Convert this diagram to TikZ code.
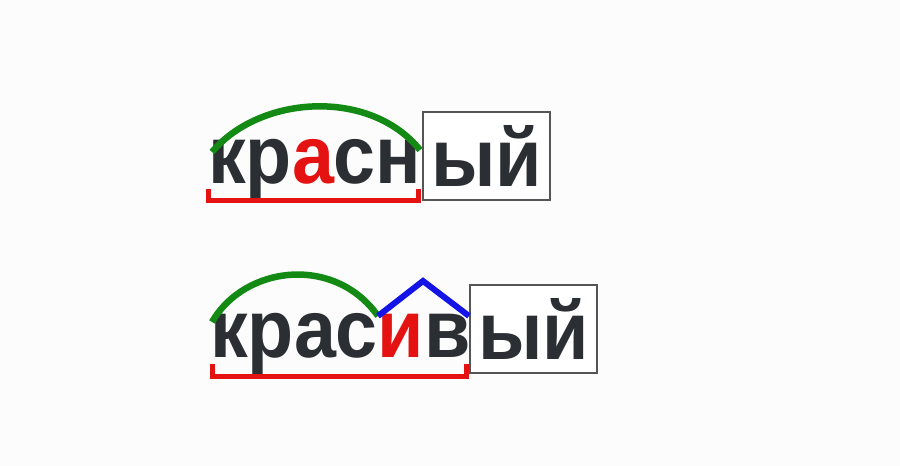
\documentclass[tikz,border=0pt]{standalone}
\usepackage{fontspec}
\setmainfont{Liberation Sans}
\newfontfamily\wordfont[FakeStretch=0.92]{Liberation Sans}
\definecolor{bg}{HTML}{FCFCFC}
\definecolor{ink}{HTML}{2B2F33}
\definecolor{rootgreen}{HTML}{138A13}
\definecolor{markred}{HTML}{E51212}
\definecolor{sufblue}{HTML}{1414E6}
\definecolor{boxgray}{HTML}{555555}
\begin{document}
\begin{tikzpicture}[x=1pt,y=-1pt,
  word/.style={inner sep=0pt, text=ink, font=\wordfont\fontsize{82}{86}\selectfont\bfseries},
  endbox/.style={draw=boxgray, line width=1.3pt, fill=white, inner sep=0pt, text=ink,
    font=\wordfont\fontsize{82}{86}\selectfont\bfseries, minimum width=127pt, minimum height=88pt},
  rootarc/.style={draw=rootgreen, line width=6.5pt},
  sufmark/.style={draw=sufblue, line width=6pt},
  stembr/.style={draw=markred, line width=5pt}]
\fill[bg] (0,0) rectangle (900,466);
\useasboundingbox (0,0) rectangle (900,466);

% first word
\node[word, anchor=base west] (w1) at (208,183) {кр\textcolor{markred}{а}сн};
\node[endbox] (e1) at (486.5,156) {ый};
\coordinate (g1a) at (212,152);
\coordinate (g1b) at (420,150);
\draw[rootarc] (g1a) .. controls (260,95) and (370,88) .. (g1b);
\coordinate (r1a) at (208,189);
\coordinate (r1b) at (418,189);
\draw[stembr] (r1a) -- ++(0,11) -| (r1b);

% second word
\node[word, anchor=base west] (w2) at (210,357) {крас\textcolor{markred}{и}в};
\node[endbox] (e2) at (533.5,329) {ый};
\coordinate (g2a) at (212,322);
\coordinate (g2b) at (378,316);
\draw[rootarc] (g2a) .. controls (245,265) and (335,255) .. (g2b);
\coordinate (b2top) at (423,281);
\coordinate (b2end) at (469,316);
\draw[sufmark] (g2b) -- (b2top) -- (b2end);
\coordinate (r2a) at (212,364);
\coordinate (r2b) at (466,364);
\draw[stembr] (r2a) -- ++(0,12) -| (r2b);
\end{tikzpicture}
\end{document}
